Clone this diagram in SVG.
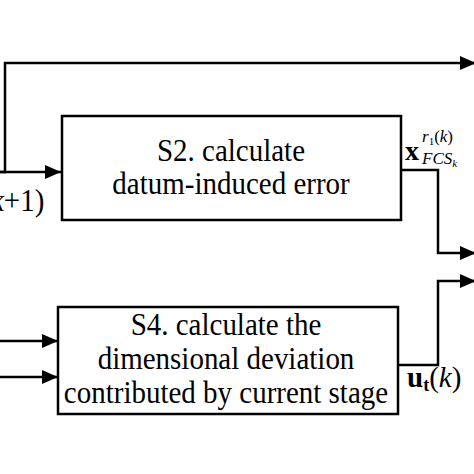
<svg xmlns="http://www.w3.org/2000/svg" width="474" height="474" viewBox="0 0 474 474">
<style>
.box{fill:#fff;stroke:#000;stroke-width:2.5}
.ln{fill:none;stroke:#000;stroke-width:2.5}
.t{font-family:"Liberation Serif","Times New Roman",serif;font-size:29px;fill:#000}
.m{font-family:"Liberation Serif","Times New Roman",serif;fill:#000}
</style>
<defs>
<marker id="ah" markerWidth="16" markerHeight="14" refX="16" refY="7" orient="auto" markerUnits="userSpaceOnUse">
<path d="M0,0 L16,7 L0,14 Z" fill="#000"/>
</marker>
</defs>
<g id="connectors">
<polyline class="ln" points="0,172 5,172 5,63 476,63" marker-end="url(#ah)"/>
<line class="ln" x1="0" y1="172" x2="61" y2="172" marker-end="url(#ah)"/>
<polyline class="ln" points="401,170 438,170 438,253 476,253" marker-end="url(#ah)"/>
<polyline class="ln" points="398,365 438,365 438,281 476,281" marker-end="url(#ah)"/>
<line class="ln" x1="0" y1="341" x2="58" y2="341" marker-end="url(#ah)"/>
<line class="ln" x1="0" y1="377" x2="58" y2="377" marker-end="url(#ah)"/>
</g>
<g id="S2">
<rect class="box" x="62" y="116" width="339" height="104"/>
<text class="t" text-anchor="middle" transform="translate(231,161) scale(1,1.12)">S2. calculate</text>
<text class="t" text-anchor="middle" transform="translate(231,194) scale(1,1.12)">datum-induced error</text>
</g>
<g id="S4">
<rect class="box" x="58" y="307" width="340" height="107"/>
<text class="t" text-anchor="middle" transform="translate(226,335) scale(1,1.12)">S4. calculate the</text>
<text class="t" text-anchor="middle" transform="translate(226,369) scale(1,1.12)">dimensional deviation</text>
<text class="t" text-anchor="middle" transform="translate(226,403) scale(1,1.12)">contributed by current stage</text>
</g>
<g id="labels">
<text class="t" transform="translate(-9,211) scale(1,1.12)"><tspan font-style="italic">k</tspan>+1)</text>
<text class="m" x="405" y="160" font-size="28" font-weight="bold">x</text>
<text class="m" x="422" y="142" font-size="17"><tspan font-style="italic">r</tspan><tspan font-size="11" dy="3">1</tspan><tspan dy="-3">(</tspan><tspan font-style="italic">k</tspan>)</text>
<text class="m" x="422" y="164" font-size="17" font-style="italic">FCS<tspan font-size="11" dy="3">k</tspan></text>
<text class="m" x="407" y="387" font-size="29" font-weight="bold">u<tspan font-size="18" dy="4">t</tspan><tspan font-weight="normal" dy="-4">(</tspan><tspan font-weight="normal" font-style="italic">k</tspan><tspan font-weight="normal">)</tspan></text>
</g>
</svg>
